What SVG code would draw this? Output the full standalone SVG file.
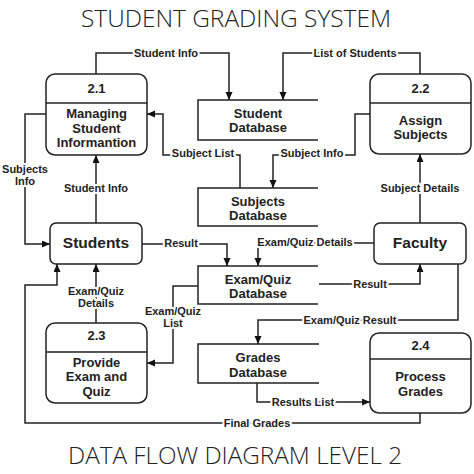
<svg xmlns="http://www.w3.org/2000/svg" width="474" height="474" viewBox="0 0 474 474">
<defs>
<marker id="arr" markerWidth="9" markerHeight="8" refX="8" refY="3.5" orient="auto" markerUnits="userSpaceOnUse">
<path d="M0,0 L8,3.5 L0,7 z" fill="#111"/>
</marker>
<style>
.title{font-family:"Open Sans","Lato","Liberation Sans",sans-serif;font-weight:300;font-size:24px;fill:#222;text-anchor:middle}
.box{fill:#fff;stroke:#222;stroke-width:1.5}
.div{stroke:#222;stroke-width:1.5}
.store{fill:none;stroke:#222;stroke-width:1.5}
.nt{font-family:"Liberation Sans",Arial,sans-serif;font-weight:bold;font-size:13px;fill:#222;text-anchor:middle}
.big{font-size:15.5px}
.conn path{fill:none;stroke:#222;stroke-width:1.5}
.lbl{font-family:"Liberation Sans",Arial,sans-serif;font-weight:bold;font-size:11px;fill:#222;text-anchor:middle;stroke:#fff;stroke-width:4;paint-order:stroke;stroke-linejoin:round}
</style>
</defs>
<rect width="474" height="474" fill="#fff"/>
<text class="title" x="236" y="27" textLength="310" lengthAdjust="spacingAndGlyphs">STUDENT GRADING SYSTEM</text>
<text class="title" x="235" y="464" textLength="334" lengthAdjust="spacingAndGlyphs">DATA FLOW DIAGRAM LEVEL 2</text>

<g id="connectors" class="conn">
<path d="M96,74 V53 H229 V100" marker-end="url(#arr)"/>
<path d="M420,74 V53 H283 V100" marker-end="url(#arr)"/>
<path d="M240,188 V155 H163 V114 H147" marker-end="url(#arr)"/>
<path d="M370,114 H355 V155 H273 V188" marker-end="url(#arr)"/>
<path d="M46,114 H25 V244 H50" marker-end="url(#arr)"/>
<path d="M96,223 V155" marker-end="url(#arr)"/>
<path d="M420,223 V154" marker-end="url(#arr)"/>
<path d="M142,244 H227 V266" marker-end="url(#arr)"/>
<path d="M374,243 H258 V266" marker-end="url(#arr)"/>
<path d="M319,284 H420 V264" marker-end="url(#arr)"/>
<path d="M458,264 V320 H258 V344" marker-end="url(#arr)"/>
<path d="M198,286 H173 V363 H147" marker-end="url(#arr)"/>
<path d="M96,323 V264" marker-end="url(#arr)"/>
<path d="M257,383 V402 H370" marker-end="url(#arr)"/>
<path d="M420,413 V423 H25 V285 H57 V264" marker-end="url(#arr)"/>
<text class="lbl" x="166" y="57">Student Info</text>
<text class="lbl" x="355" y="57">List of Students</text>
<text class="lbl" x="203" y="157">Subject List</text>
<text class="lbl" x="312" y="157">Subject Info</text>
<text class="lbl" x="25" y="173">Subjects</text>
<text class="lbl" x="25" y="185">Info</text>
<text class="lbl" x="96" y="192">Student Info</text>
<text class="lbl" x="420" y="192">Subject Details</text>
<text class="lbl" x="181" y="247">Result</text>
<text class="lbl" x="305" y="246">Exam/Quiz Details</text>
<text class="lbl" x="370" y="288">Result</text>
<text class="lbl" x="96" y="295">Exam/Quiz</text>
<text class="lbl" x="96" y="307">Details</text>
<text class="lbl" x="173" y="315">Exam/Quiz</text>
<text class="lbl" x="173" y="327">List</text>
<text class="lbl" x="350" y="324">Exam/Quiz Result</text>
<text class="lbl" x="303" y="406">Results List</text>
<text class="lbl" x="257" y="427">Final Grades</text>
</g>

<g id="p21">
<rect class="box" x="46" y="74" width="101" height="81" rx="9"/>
<line class="div" x1="46" y1="103" x2="147" y2="103"/>
<text class="nt" x="96.5" y="93">2.1</text>
<text class="nt" x="96.5" y="118">Managing</text>
<text class="nt" x="96.5" y="133">Student</text>
<text class="nt" x="96.5" y="147">Informantion</text>
</g>
<g id="p22">
<rect class="box" x="370" y="74" width="101" height="80" rx="9"/>
<line class="div" x1="370" y1="103" x2="471" y2="103"/>
<text class="nt" x="420.5" y="93">2.2</text>
<text class="nt" x="420.5" y="125">Assign</text>
<text class="nt" x="420.5" y="139">Subjects</text>
</g>
<g id="studentdb">
<path class="store" d="M318,100 H198 V140 H318"/>
<text class="nt" x="258" y="118">Student</text>
<text class="nt" x="258" y="132">Database</text>
</g>
<g id="subjectsdb">
<path class="store" d="M318,188 H198 V226 H318"/>
<text class="nt" x="258" y="206">Subjects</text>
<text class="nt" x="258" y="220">Database</text>
</g>
<g id="students">
<rect class="box" x="50" y="223" width="92" height="41" rx="6"/>
<text class="nt big" x="96" y="248">Students</text>
</g>
<g id="faculty">
<rect class="box" x="374" y="223" width="92" height="41" rx="6"/>
<text class="nt big" x="420" y="248">Faculty</text>
</g>
<g id="examdb">
<path class="store" d="M318,266 H198 V304 H318"/>
<text class="nt" x="258" y="284">Exam/Quiz</text>
<text class="nt" x="258" y="298">Database</text>
</g>
<g id="p23">
<rect class="box" x="46" y="323" width="101" height="80" rx="9"/>
<line class="div" x1="46" y1="352" x2="147" y2="352"/>
<text class="nt" x="96.5" y="340">2.3</text>
<text class="nt" x="96.5" y="367">Provide</text>
<text class="nt" x="96.5" y="381">Exam and</text>
<text class="nt" x="96.5" y="396">Quiz</text>
</g>
<g id="gradesdb">
<path class="store" d="M319,344 H198 V383 H319"/>
<text class="nt" x="258" y="362">Grades</text>
<text class="nt" x="258" y="377">Database</text>
</g>
<g id="p24">
<rect class="box" x="370" y="333" width="101" height="80" rx="9"/>
<line class="div" x1="370" y1="359" x2="471" y2="359"/>
<text class="nt" x="420.5" y="350">2.4</text>
<text class="nt" x="420.5" y="381">Process</text>
<text class="nt" x="420.5" y="396">Grades</text>
</g>
</svg>
